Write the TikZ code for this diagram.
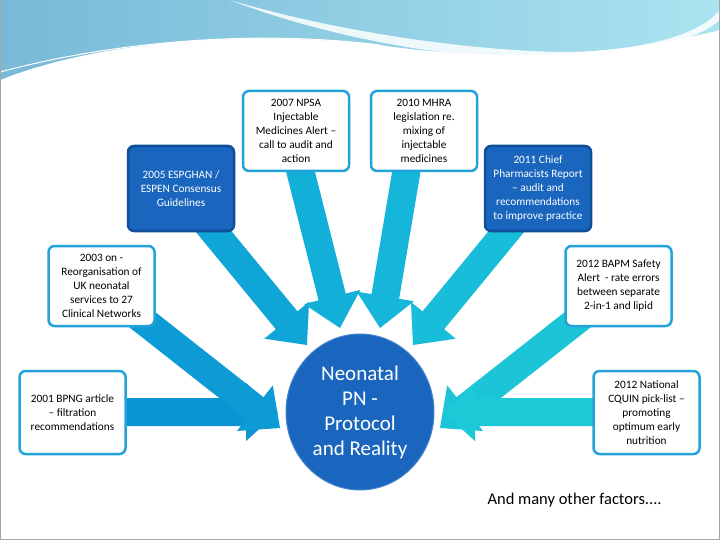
\documentclass[tikz,border=0pt]{standalone}
\usepackage{fontspec}
\setmainfont{Carlito}
\usetikzlibrary{calc,shapes.geometric}
\definecolor{dk}{HTML}{1A66BE}
\definecolor{dkb}{HTML}{0E4F98}
\definecolor{lb}{HTML}{23A3D9}
\definecolor{a1}{HTML}{0A95D2}
\definecolor{a2}{HTML}{0C9BD4}
\definecolor{a3}{HTML}{0FA6D7}
\definecolor{a4}{HTML}{12AFD9}
\definecolor{a5}{HTML}{15B6DA}
\definecolor{a6}{HTML}{18BDD9}
\definecolor{a7}{HTML}{1BC4D7}
\definecolor{a8}{HTML}{1DC9D6}
\newcommand\flow[3]{%
 \coordinate (H#1) at ($(#2)!32pt!(#1)$);
 \fill[#3] ($(#1)!14pt!90:(#2)$) -- ($(H#1)!14pt!90:(#2)$) -- ($(H#1)!29pt!90:(#2)$) -- (#2)
  -- ($(H#1)!29pt!-90:(#2)$) -- ($(H#1)!14pt!-90:(#2)$) -- ($(#1)!14pt!-90:(#2)$) -- cycle;}
\tikzset{
 box/.style={rounded corners=6pt,line width=2.5pt,minimum width=106pt,inner sep=2pt,align=center,
   font=\fontsize{11.3}{14}\selectfont},
 wbox/.style={box,draw=lb,fill=white,text=black},
 dbox/.style={box,draw=dkb,fill=dk,text=white},
}
\begin{document}
\begin{tikzpicture}[x=1pt,y=-1pt]
\useasboundingbox (0,0) rectangle (720,540);
\fill[white] (0,0) rectangle (720,540);
% header
\shade[left color={rgb,255:red,120;green,185;blue,215},right color={rgb,255:red,170;green,228;blue,240}]
 (0,0) -- (720,0) -- (720,30) .. controls (600,60) and (480,60) .. (380,45)
 .. controls (250,30) and (100,40) .. (0,80) -- cycle;
\fill[white,opacity=0.85] (230,0) .. controls (330,30) and (460,50) .. (560,52)
 .. controls (640,52) and (700,35) .. (720,10) -- (720,20) .. controls (690,45) and (620,62) .. (540,60)
 .. controls (440,58) and (320,35) .. (230,0) -- cycle;
\draw[white,line width=1pt] (0,72) .. controls (120,40) and (260,30) .. (380,45);
\draw[gray!70,line width=0.8pt] (0.4,0) -- (0.4,539.6) -- (719.6,539.6) -- (719.6,0);
% anchors
\coordinate (s1) at (110,412); \coordinate (t1) at (278,412);
\coordinate (s2) at (130,310); \coordinate (t2) at (280,428);
\coordinate (s3) at (200,215); \coordinate (t3) at (307,345);
\coordinate (s4) at (295,150); \coordinate (t4) at (340,328);
\coordinate (s5) at (410,150); \coordinate (t5) at (380,328);
\coordinate (s6) at (520,215); \coordinate (t6) at (413,345);
\coordinate (s7) at (590,310); \coordinate (t7) at (440,428);
\coordinate (s8) at (610,412); \coordinate (t8) at (443,412);
\flow{s1}{t1}{a1}\flow{s2}{t2}{a2}\flow{s3}{t3}{a3}\flow{s4}{t4}{a4}
\flow{s5}{t5}{a5}\flow{s6}{t6}{a6}\flow{s7}{t7}{a7}\flow{s8}{t8}{a8}
% boxes
\node[dbox,minimum height=85pt] (b2005) at (181,188.5) {2005 ESPGHAN /\\ESPEN Consensus\\Guidelines};
\node[wbox,minimum height=80pt] (b2007) at (296,131) {2007 NPSA\\Injectable\\Medicines Alert --\\call to audit and\\action};
\node[wbox,minimum height=80pt] (b2010) at (424,131) {2010 MHRA\\legislation re.\\mixing of\\injectable\\medicines};
\node[dbox,minimum height=85pt] (b2011) at (538,188.5) {2011 Chief\\Pharmacists Report\\-- audit and\\recommendations\\to improve practice};
\node[wbox,minimum height=80pt] (b2003) at (101.5,286) {2003 on -\\Reorganisation of\\UK neonatal\\services to 27\\Clinical Networks};
\node[wbox,minimum height=80pt] (bbapm) at (618.5,286) {2012 BAPM Safety\\Alert\ \ - rate errors\\between separate\\2-in-1 and lipid};
\node[wbox,minimum height=83pt] (b2001) at (72.5,412.5) {2001 BPNG article\\-- filtration\\recommendations};
\node[wbox,minimum height=83pt] (bcq) at (646.5,412.5) {2012 National\\CQUIN pick-list --\\promoting\\optimum early\\nutrition};
\node[ellipse,fill=dk,draw=dk!80!white,line width=1pt,minimum width=148pt,minimum height=156pt,
  text=white,align=center,font=\fontsize{21}{25}\selectfont] (core) at (360,412)
  {Neonatal\\PN -\\Protocol\\and Reality};
\node[font=\fontsize{16.5}{19}\selectfont,anchor=west] (more) at (484,500) {And many other factors....};
\end{tikzpicture}
\end{document}
